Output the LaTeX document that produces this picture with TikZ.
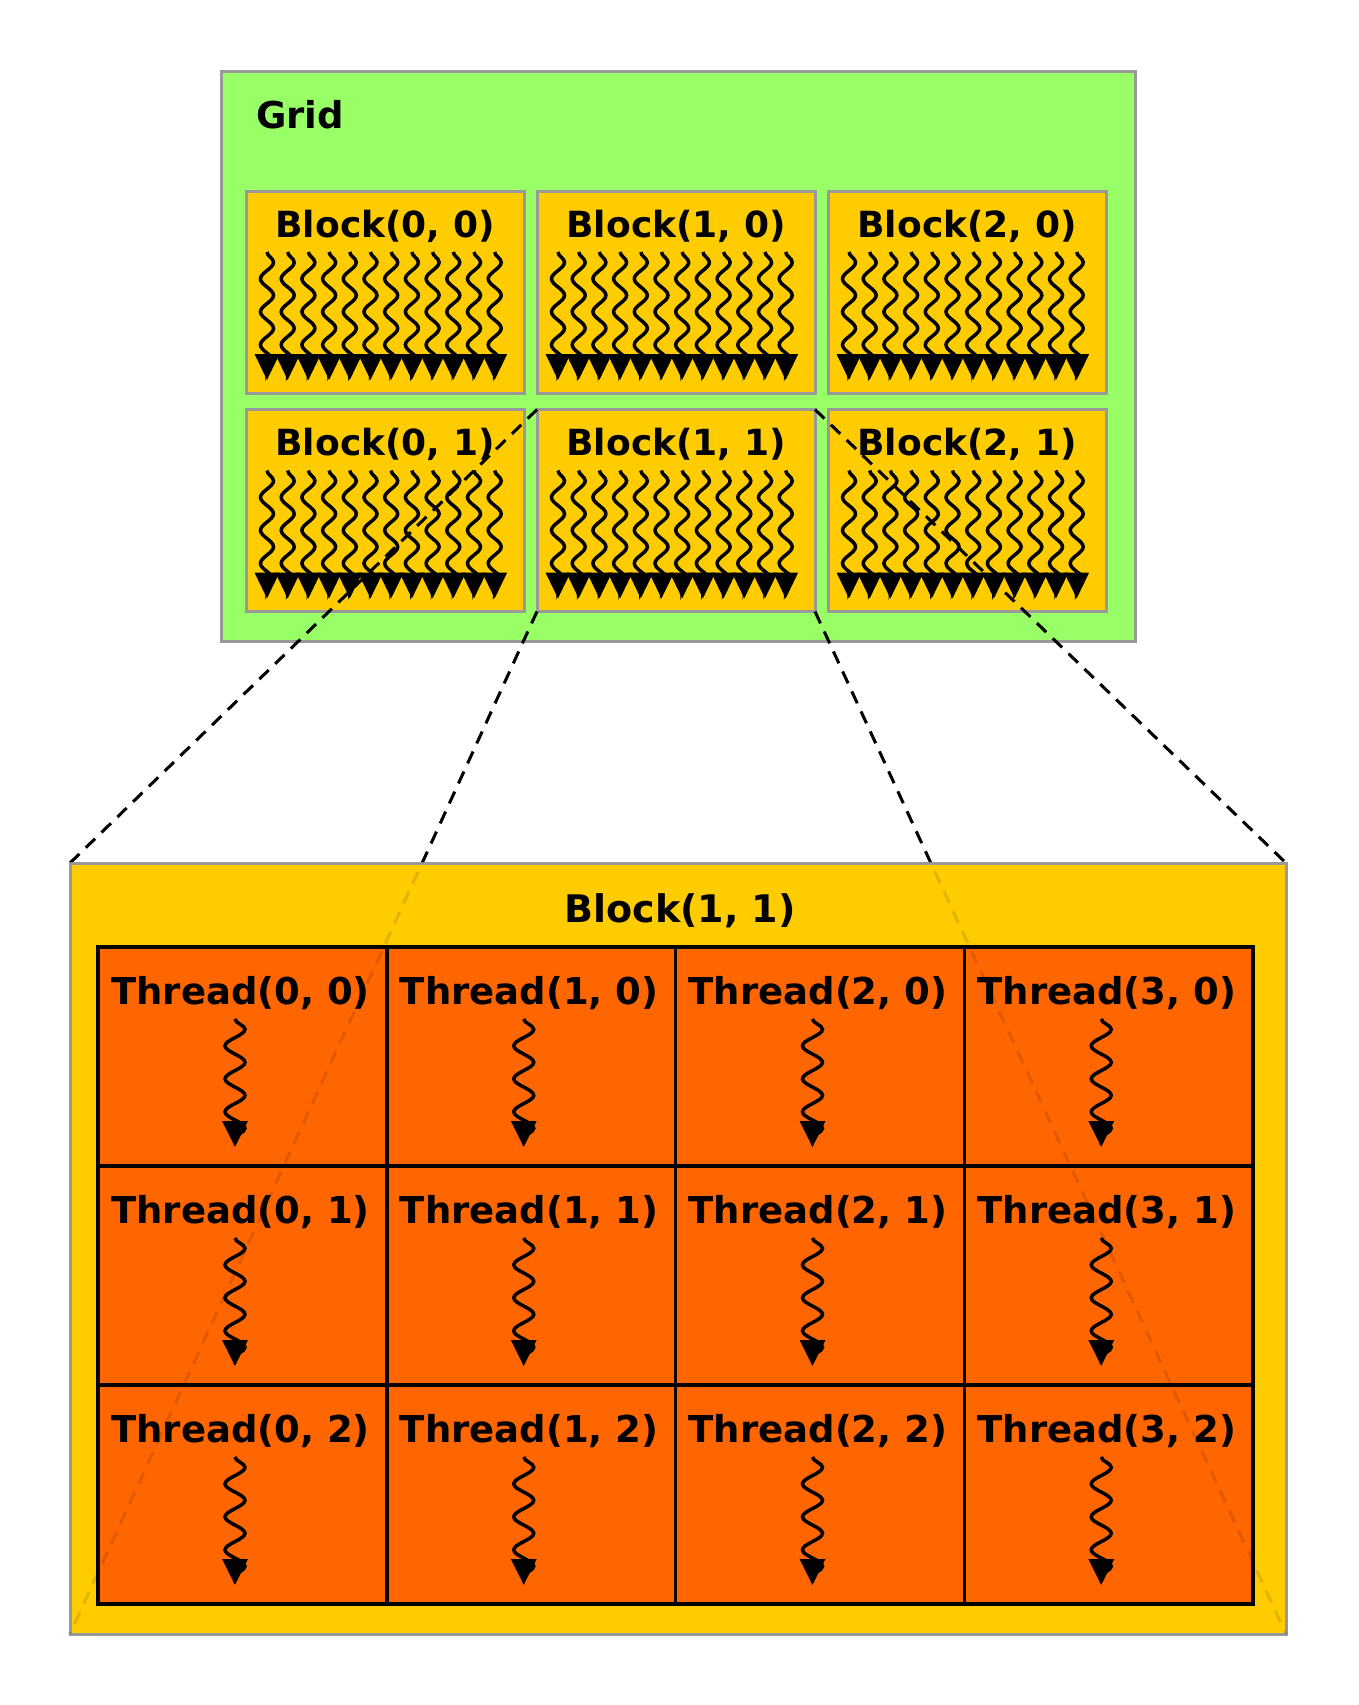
\documentclass[tikz,border=0pt]{standalone}
\usepackage{fontspec}
\setmainfont{DejaVu Sans}
\usetikzlibrary{arrows.meta,decorations.pathmorphing}
\definecolor{gridgreen}{RGB}{153,255,102}
\definecolor{blockyellow}{RGB}{255,204,0}
\definecolor{threadorange}{RGB}{255,102,0}
\definecolor{framegray}{RGB}{153,153,153}
\pgfdeclarelayer{back}
\pgfdeclarelayer{zoom}
\pgfsetlayers{back,zoom,main}

\begin{document}
\begin{tikzpicture}[x=1pt,y=-1pt,
    boxframe/.style={draw=framegray,line width=3pt,inner sep=0pt,outer sep=0pt},
    blockbox/.style={boxframe,fill=blockyellow,minimum width=278pt,minimum height=202pt},
    threadbox/.style={draw=black,line width=3.5pt,fill=threadorange,inner sep=0pt,
      outer sep=0pt,minimum width=288.75pt,minimum height=219pt},
    boxtext/.style={font=\fontsize{36}{40}\selectfont\bfseries,inner sep=0pt},
    blockwave/.style={line width=3.5pt,-{Triangle[width=24pt,length=26pt]},decorate,
      decoration={snake,amplitude=6.5pt,segment length=33pt,post length=1pt}},
    threadwave/.style={line width=3.5pt,-{Triangle[width=25pt,length=26pt]},decorate,
      decoration={snake,amplitude=10pt,segment length=33pt,post length=1pt}},
    zoomline/.style={line width=3pt,dash pattern=on 13pt off 9pt}]
  \useasboundingbox (0,0) rectangle (1358,1705);

  % the grid of blocks
  \begin{pgfonlayer}{back}
  \node[boxframe,fill=gridgreen,minimum width=914pt,minimum height=570pt] (grid) at (678,356) {};
  \node[boxtext,anchor=base west,font=\fontsize{37}{40}\selectfont\bfseries] (grid-name) at (256,128) {Grid};
  \foreach \i in {0,1,2}
    \foreach \j in {0,1} {
      \node[blockbox] (b\i\j) at ({385+291*\i},{292+218.5*\j}) {};
      \node[boxtext,anchor=base] (b\i\j-name) at ({385+291*\i},{237+218.5*\j}) {Block(\i, \j)};
      \foreach \k in {0,...,11}
        \draw[blockwave] ({267+291*\i+20.7*\k},{252+218.5*\j}) -- ++(0,128);
    }
  \end{pgfonlayer}

  % the block of threads
  \node[boxframe,fill=blockyellow,minimum width=1216pt,minimum height=771pt] (big) at (678,1248.5) {};
  \node[boxtext,anchor=base,font=\fontsize{38}{40}\selectfont\bfseries] (big-name) at (680,922) {Block(1, 1)};
  \foreach \i in {0,...,3}
    \foreach \j in {0,1,2} {
      \node[threadbox] (t\i\j) at ({242.375+288.75*\i},{1056.5+219*\j}) {};
      \node[boxtext,anchor=base west,font=\fontsize{37}{40}\selectfont\bfseries] (t\i\j-name)
        at ({111+288.75*\i},{1004+219*\j}) {Thread(\i, \j)};
      \draw[threadwave] ({235+288.75*\i},{1019+219*\j}) -- ++(0,128);
    }

  % zoom from Block(1, 1), seen faintly through the big block
  \begin{pgfonlayer}{zoom}
  \foreach \c in {north west,north east,south west,south east}
    \draw[zoomline] (b11.\c) -- (big.\c);
  \end{pgfonlayer}
  \foreach \c in {north west,north east,south west,south east}
    \draw[zoomline,draw opacity=.12] (b11.\c) -- (big.\c);
\end{tikzpicture}
\end{document}
